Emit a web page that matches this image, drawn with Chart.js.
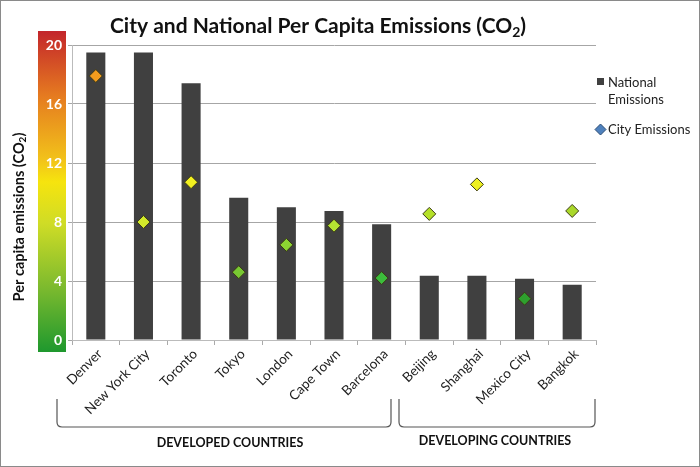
<!DOCTYPE html>
<html>
<head>
<meta charset="utf-8">
<script src="https://cdn.jsdelivr.net/npm/chart.js@4.4.0/dist/chart.umd.min.js"></script>
<style>
  body { margin: 0; background: #fff; }
  canvas { display: block; }
</style>
</head>
<body>
<canvas id="emissions-chart" width="700" height="467"></canvas>
<script>
// data
const cities = ["Denver", "New York City", "Toronto", "Tokyo", "London", "Cape Town", "Barcelona",
                "Beijing", "Shanghai", "Mexico City", "Bangkok"];
const nationalEmissions = [19.5, 19.5, 17.4, 9.65, 9.0, 8.75, 7.85, 4.35, 4.35, 4.15, 3.75];
const cityEmissions = [17.9, 8.0, 10.7, 4.6, 6.45, 7.75, 4.2, 8.55, 10.55, 2.8, 8.75];
const yTicks = [0, 4, 8, 12, 16, 20];
const groupLabels = ["DEVELOPED COUNTRIES", "DEVELOPING COUNTRIES"];

// diamond fill colours, one per city
const diamondColors = ["#f39c1e", "#d2ea2a", "#f2f020", "#78c832", "#8cd432", "#b4e232",
                       "#3cbc3c", "#b4e028", "#eef022", "#2ea02e", "#aad82a"];

const FONT = "Lato, 'Open Sans', sans-serif";

// gradient strip behind the y axis numbers, plus title/legend/brackets
const decorations = {
    id: "decorations",
    beforeDraw(chart) {
        const ctx = chart.ctx;
        const y = chart.scales.y;
        const top = y.top - 14, bottom = y.bottom + 12;
        const g = ctx.createLinearGradient(0, top, 0, bottom);
        g.addColorStop(0, "#c3252b");
        g.addColorStop(0.2, "#e57a20");
        g.addColorStop(0.4, "#f2c21a");
        g.addColorStop(0.47, "#f6e40e");
        g.addColorStop(0.6, "#cfdc26");
        g.addColorStop(0.8, "#7cba2e");
        g.addColorStop(1, "#1e982e");
        ctx.save();
        ctx.fillStyle = g;
        ctx.fillRect(38, top, 28, bottom - top);
        ctx.restore();
    },
    afterDraw(chart) {
        const ctx = chart.ctx;
        ctx.save();

        // title with subscript 2
        ctx.fillStyle = "#111";
        ctx.textBaseline = "middle";
        const main = "City and National Per Capita Emissions (CO";
        ctx.font = "bold 21px " + FONT;
        const w1 = ctx.measureText(main).width;
        ctx.font = "bold 14px " + FONT;
        const w2 = ctx.measureText("2").width;
        ctx.font = "bold 21px " + FONT;
        const w3 = ctx.measureText(")").width;
        let x = 318 - (w1 + w2 + w3) / 2;
        ctx.textAlign = "left";
        ctx.fillText(main, x, 26);
        ctx.font = "bold 14px " + FONT;
        ctx.fillText("2", x + w1, 32);
        ctx.font = "bold 21px " + FONT;
        ctx.fillText(")", x + w1 + w2, 26);

        // y axis title, rotated
        ctx.save();
        ctx.translate(19, 217);
        ctx.rotate(-Math.PI / 2);
        const yt = "Per capita emissions (CO";
        ctx.font = "bold 14.5px " + FONT;
        const a = ctx.measureText(yt).width;
        ctx.font = "bold 10px " + FONT;
        const b = ctx.measureText("2").width;
        ctx.font = "bold 14.5px " + FONT;
        const c = ctx.measureText(")").width;
        let sx = -(a + b + c) / 2;
        ctx.fillText(yt, sx, 0);
        ctx.font = "bold 10px " + FONT;
        ctx.fillText("2", sx + a, 4);
        ctx.font = "bold 14.5px " + FONT;
        ctx.fillText(")", sx + a + b, 0);
        ctx.restore();

        // legend
        ctx.font = "13px " + FONT;
        ctx.fillStyle = "#404040";
        ctx.fillRect(597, 78, 7, 7);
        ctx.fillStyle = "#222";
        ctx.fillText("National", 608, 83);
        ctx.fillText("Emissions", 608, 100);
        ctx.beginPath();
        ctx.moveTo(600.5, 124);
        ctx.lineTo(606, 129.5);
        ctx.lineTo(600.5, 135);
        ctx.lineTo(595, 129.5);
        ctx.closePath();
        ctx.fillStyle = "#4f81bd";
        ctx.fill();
        ctx.strokeStyle = "#2c4d75";
        ctx.lineWidth = 1;
        ctx.stroke();
        ctx.fillStyle = "#222";
        ctx.fillText("City Emissions", 608, 130);

        // group brackets
        const brackets = [[57, 391], [399, 595]];
        ctx.strokeStyle = "#555";
        ctx.lineWidth = 1.2;
        brackets.forEach(([l, r]) => {
            ctx.beginPath();
            ctx.moveTo(l, 399);
            ctx.lineTo(l, 422);
            ctx.quadraticCurveTo(l, 427, l + 5, 427);
            ctx.lineTo(r - 5, 427);
            ctx.quadraticCurveTo(r, 427, r, 422);
            ctx.lineTo(r, 399);
            ctx.stroke();
        });
        ctx.font = "bold 12.5px " + FONT;
        ctx.fillStyle = "#111";
        ctx.textAlign = "center";
        ctx.fillText(groupLabels[0], 230, 443);
        ctx.fillText(groupLabels[1], 495, 441);

        // frame
        ctx.strokeStyle = "#8a8a8a";
        ctx.lineWidth = 1;
        ctx.strokeRect(0.5, 0.5, 699, 466);
        ctx.restore();
    }
};

new Chart(document.getElementById("emissions-chart"), {
    data: {
        labels: cities,
        datasets: [
            {
                type: "line",
                label: "City Emissions",
                data: cityEmissions,
                showLine: false,
                pointStyle: "rectRot",
                pointRadius: 6.5,
                pointHoverRadius: 6.5,
                pointBackgroundColor: diamondColors,
                pointBorderColor: "#3a3a14",
                pointBorderWidth: 1,
                order: 0,
            },
            {
                type: "bar",
                label: "National Emissions",
                data: nationalEmissions,
                backgroundColor: "#404040",
                barPercentage: 0.8,
                categoryPercentage: 0.5,
                order: 1,
            },
        ],
    },
    options: {
        responsive: false,
        animation: false,
        layout: { padding: { top: 45, right: 104, left: 0, bottom: 0 } },
        plugins: {
            legend: { display: false },
            title: { display: false },
            tooltip: { enabled: false },
        },
        scales: {
            x: {
                grid: { offset: true, drawOnChartArea: false, tickLength: 5, color: "#aaa" },
                border: { color: "#bbb" },
                ticks: {
                    minRotation: 45,
                    maxRotation: 45,
                    padding: 1,
                    labelOffset: 4,
                    color: "#222",
                    font: { family: FONT, size: 13.5 },
                },
                afterFit(scale) { scale.height = 127; },
            },
            y: {
                min: 0,
                max: 20,
                afterBuildTicks(scale) { scale.ticks = yTicks.map(v => ({ value: v })); },
                grid: { color: "#a6a6a6", tickLength: 4 },
                border: { color: "#bbb" },
                ticks: {
                    padding: 6,
                    color: "#fff",
                    font: { family: FONT, size: 14, weight: "bold" },
                },
                afterFit(scale) { scale.width = 72; },
            },
        },
    },
    plugins: [decorations],
});
</script>
</body>
</html>
